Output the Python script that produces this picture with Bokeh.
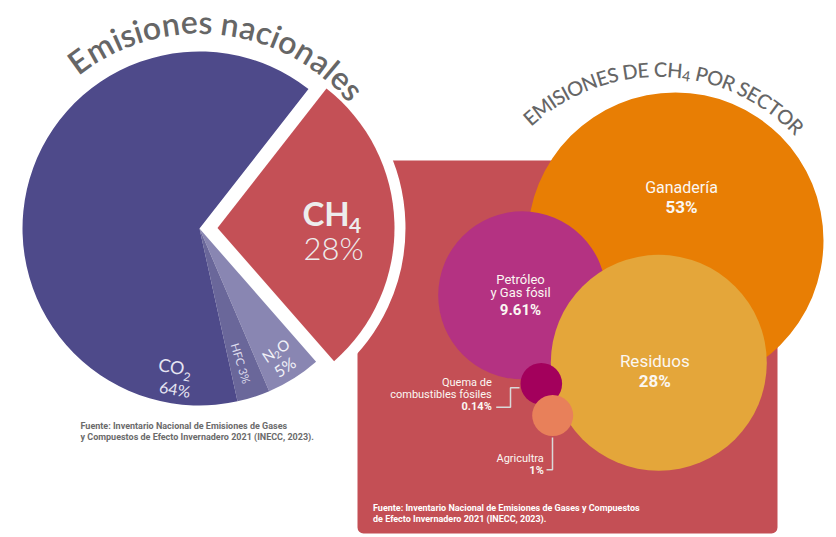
import math
from bokeh.plotting import figure
from bokeh.models import Range1d, BoxAnnotation
from bokeh.core.properties import value
from bokeh.embed import file_html
from bokeh.resources import INLINE

# ---------------- data ----------------
gas_labels = ["CH4", "N2O", "HFC", "CO2"]          # clockwise from the top-right
gas_pct = [28, 5, 3, 64]
gas_colors = ["#C45056", "#8986B2", "#6A679A", "#4E4A8A"]

sector_lines = [["Ganadería"], ["Petróleo", "y Gas fósil"], ["Residuos"],
                ["Quema de", "combustibles fósiles"], ["Agricultra"]]
sector_pct = [53, 9.61, 28, 0.14, 1]
sector_colors = ["#E87E04", "#B43282", "#E4A63A", "#A3005C", "#E8805A"]

title_left = "Emisiones nacionales"
title_right = [("EMISIONES DE CH", False), ("4", True), (" POR SECTOR", False)]
source_left = ["Fuente: Inventario Nacional de Emisiones de Gases",
               "y Compuestos de Efecto Invernadero 2021 (INECC, 2023)."]
source_right = ["Fuente: Inventario Nacional de Emisiones de Gases y Compuestos",
                "de Efecto Invernadero 2021 (INECC, 2023)."]

# ---------------- layout (pixel rows measured from the top) ----------------
W, H = 836, 537
K_BASE = 0.38   # renderer places the alphabetic baseline this much (in em) too low


def Y(row):
    return H - row


GREY = "#666666"
p = figure(width=W, height=H, x_range=Range1d(0, W), y_range=Range1d(0, H),
           output_backend="svg", toolbar_location=None, min_border=0,
           x_axis_location=None, y_axis_location=None)
p.grid.visible = False
p.outline_line_color = None
p.background_fill_color = "white"
p.border_fill_color = "white"

# red panel
p.add_layout(BoxAnnotation(left=357, right=777, top=Y(160), bottom=Y(533),
                           fill_color="#C44F55", fill_alpha=1.0, line_color=None,
                           border_radius=6, level="underlay"))

# ---------------- pie ----------------
PCX, PCY, PR = 199, Y(228), 177
START = 52.0
EXPLODE = 18
wx, wy, ws, we, wc = [], [], [], [], []
hl = None
a = START
for lab, pct, col in zip(gas_labels, gas_pct, gas_colors):
    b = a - pct * 3.6
    if lab == "CH4":
        m = math.radians((a + b) / 2)
        hl = dict(x=PCX + EXPLODE * math.cos(m), y=PCY + EXPLODE * math.sin(m),
                  s=math.radians(b), e=math.radians(a), c=col)
    else:
        wx.append(PCX); wy.append(PCY)
        ws.append(math.radians(b)); we.append(math.radians(a)); wc.append(col)
    a = b
p.wedge(x=wx, y=wy, radius=PR, start_angle=ws, end_angle=we, direction="anticlock",
        fill_color=wc, line_color=None)
p.wedge(x=[hl["x"]], y=[hl["y"]], radius=PR, start_angle=[hl["s"]], end_angle=[hl["e"]],
        direction="anticlock", fill_color="white", line_color="white", line_width=22,
        line_join="round")
p.wedge(x=[hl["x"]], y=[hl["y"]], radius=PR, start_angle=[hl["s"]], end_angle=[hl["e"]],
        direction="anticlock", fill_color=hl["c"], line_color=None)

# ---------------- bubbles ----------------
bub_x = [675, 521.7, 658.3, 540.8, 552.2]
bub_row = [240, 294.8, 362.3, 383.3, 415]
bub_r = [148, 84, 108, 20.8, 20.5]
p.circle(x=bub_x, y=[Y(r) for r in bub_row], radius=bub_r, fill_color=sector_colors,
         line_color=None)

# leader lines
LEAD = "#D9D9D9"
p.line(x=[495.7, 510, 510, 519], y=[Y(406.7), Y(406.7), Y(387.3), Y(387.3)],
       line_color=LEAD, line_width=1.5)
p.line(x=[546, 552, 552], y=[Y(469.3), Y(469.3), Y(437)], line_color=LEAD, line_width=1.5)


def txt(x, y, s, size, color="white", font="Roboto", style="normal", align="center",
        angle=0.0):
    a = math.radians(angle)
    sh = K_BASE * size
    p.text(x=[x - sh * math.sin(a)], y=[y + sh * math.cos(a)], text=[s],
           text_font=value(font), text_font_size=f"{size}px",
           text_font_style=style, text_color=color, text_align=align,
           text_baseline="alphabetic", angle=a)


# sector labels: (x, first baseline row, line step, size, pct gap, pct size, align)
lab_layout = [(681, 193, 20, 16, 20, 17, "center"),
              (520, 284, 13, 13, 18, 15, "center"),
              (654.3, 366.7, 20, 17, 20, 17, "center"),
              (491.3, 386, 11.8, 11, 12.2, 11, "right"),
              (543.3, 461.7, 12.3, 11, 12.3, 11, "right")]
TXT_W = "#FBF7F2"
for lines, pct, (lx, row, step, size, pgap, psize, al) in zip(sector_lines, sector_pct, lab_layout):
    r = row
    for i, ln in enumerate(lines):
        r = row + i * step
        txt(lx, Y(r), ln, size, color=TXT_W, align=al)
    txt(lx, Y(r + pgap), f"{pct:g}%", psize, color=TXT_W, style="bold", align=al)

# sources
for i, ln in enumerate(source_left):
    txt(80, Y(428.5 + i * 11.8), ln, 9, color="#6B6B6B", style="bold", align="left")
for i, ln in enumerate(source_right):
    txt(372.5, Y(510.5 + i * 11.5), ln, 9, color="white", style="bold", align="left")


# ---------------- pie labels ----------------
def run(x0, y0, ang, pieces, color, font="Lato"):
    a = math.radians(ang)
    ux, uy = math.cos(a), math.sin(a)
    nx, ny = -math.sin(a), math.cos(a)
    s = 0.0
    for t, size, style, w, dy in pieces:
        txt(x0 + s * ux + dy * nx, y0 + s * uy + dy * ny, t, size, color=color, font=font,
            style=style, align="left", angle=ang)
        s += w


run(302, Y(225), 0, [("CH", 33, "bold", 46.5, 0), ("4", 21, "bold", 0, -7.7)], "#EDEDED")
txt(303, Y(259.3), "28%", 31, color="#EDEDED", font="'Lato Light', Lato", align="left")
run(157, Y(370), -10, [("CO", 18, "normal", 26.5, 0), ("2", 12, "normal", 0, -6)], "#E6E5F2")
run(158, Y(391.5), -10, [("64%", 16, "normal", 0, 0)], "#E6E5F2")
# HFC 3% (centre at 240, 363), reading downwards
hfc_a = math.radians(-73)
txt(240 + 4 * math.sin(hfc_a), Y(363) - 4 * math.cos(hfc_a), "HFC 3%", 11.5,
    color="#DCDBEC", font="Lato", angle=-73)
run(266, Y(362.7), 34, [("N", 15, "normal", 11, 0), ("2", 10, "normal", 6.5, -3),
                        ("O", 15, "normal", 0, 0)], "#F2F2F8")
run(278.3, Y(377.3), 34, [("5%", 16, "normal", 0, 0)], "#F2F2F8")

# ---------------- curved titles ----------------
LATO_W = {"a": .50, "c": .46, "e": .52, "i": .24, "l": .24, "m": .84, "n": .56, "o": .56,
          "s": .41, " ": .22, "E": .56, "M": .88, "I": .27, "S": .50, "O": .76, "N": .74,
          "D": .74, "C": .66, "H": .75, "P": .60, "R": .62, "T": .57, "4": .58}


def arc_title(chars, cx, cy, r, a0, a1, size, font):
    # chars: list of (char, is_sub)
    widths = [LATO_W.get(c, .55) * (0.7 if sub else 1.0) for c, sub in chars]
    total = sum(widths)
    groups = {False: ([], [], [], []), True: ([], [], [], [])}
    cum = 0.0
    for (c, sub), w in zip(chars, widths):
        th = a0 + (a1 - a0) * (cum + w / 2) / total
        fs = size * (0.7 if sub else 1.0)
        rr = r - (3 if sub else 0) + K_BASE * fs
        g = groups[sub]
        g[0].append(cx + rr * math.cos(math.radians(th)))
        g[1].append(cy + rr * math.sin(math.radians(th)))
        g[2].append(c)
        g[3].append(math.radians(th - 90))
        cum += w
    for sub, (xs, ys, ts, angs) in groups.items():
        if not xs:
            continue
        p.text(x=xs, y=ys, text=ts, angle=angs, text_font=value(font),
               text_font_size=f"{round(size * (0.7 if sub else 1.0))}px",
               text_color=GREY, text_align="center", text_baseline="alphabetic")


arc_title([(c, False) for c in title_left], 199, Y(228), 195, 128.5, 40.0, 32,
          "'Lato Semibold', Lato")
rt = []
for seg, sub in title_right:
    rt += [(c, sub) for c in seg]
arc_title(rt, 658, Y(263), 187, 133, 43, 20, "'Lato Medium', Lato")

open("out.html", "w").write(file_html(p, INLINE))
